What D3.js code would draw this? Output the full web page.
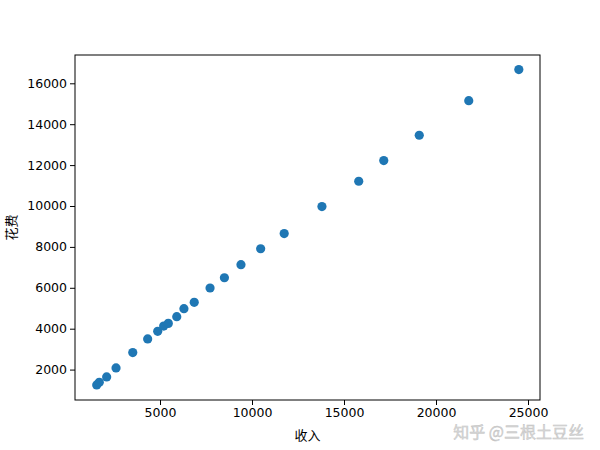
<!DOCTYPE html>
<html><head><meta charset="utf-8">
<script src="https://cdn.jsdelivr.net/npm/d3@7"></script>
<style>body{margin:0;background:#fff}svg{display:block}</style>
</head><body>
<svg id="c" width="600" height="450"></svg>
<script>
const income = [1560,1700,2100,2610,3520,4330,4875,5200,5450,5910,6300,6860,7720,8500,9400,10470,11750,13800,15800,17160,19090,21780,24500];
const spend  = [1250,1380,1640,2080,2830,3500,3870,4130,4260,4590,4980,5290,5990,6490,7130,7910,8650,9970,11210,12220,13460,15150,16670];
const xTicks = [5000,10000,15000,20000,25000];
const yTicks = [2000,4000,6000,8000,10000,12000,14000,16000];
const xLabel = "收入", yLabel = "花费", watermark = "知乎 @三根土豆丝";

const svg = d3.select("#c");
const L=75, R=540, T=55, B=400;
const x = d3.scaleLinear().domain([380,25652]).range([L,R]);
const y = d3.scaleLinear().domain([513,17384]).range([B,T]);
const font = "'DejaVu Sans', sans-serif";

svg.append("g").selectAll("circle").data(income).join("circle")
  .attr("cx",(d,i)=>x(d)).attr("cy",(d,i)=>y(spend[i])).attr("r",4.6)
  .attr("fill","#1f77b4");

const xa = svg.append("g").attr("transform",`translate(0,${B})`)
  .call(d3.axisBottom(x).tickValues(xTicks).tickSize(5).tickPadding(3).tickFormat(d3.format("d")));
const ya = svg.append("g").attr("transform",`translate(${L},0)`)
  .call(d3.axisLeft(y).tickValues(yTicks).tickSize(5).tickPadding(3).tickFormat(d3.format("d")));
[xa,ya].forEach(a=>{a.select(".domain").remove();a.selectAll("text").attr("font-family",font).attr("font-size",12.5).attr("fill","#000");a.selectAll("line").attr("stroke","#000");});

svg.append("rect").attr("x",L).attr("y",T).attr("width",R-L).attr("height",B-T)
  .attr("fill","none").attr("stroke","#000").attr("stroke-width",1);

svg.append("text").attr("x",(L+R)/2).attr("y",440).attr("text-anchor","middle")
  .attr("font-family","'Noto Sans CJK SC', sans-serif").attr("font-size",13).text(xLabel);
svg.append("text").attr("transform",`translate(16,${(T+B)/2}) rotate(-90)`).attr("text-anchor","middle")
  .attr("font-family","'Noto Sans CJK SC', sans-serif").attr("font-size",13).text(yLabel);

svg.append("text").attr("x",584).attr("y",438).attr("text-anchor","end")
  .attr("font-family","'Noto Sans CJK SC', sans-serif").attr("font-size",16)
  .attr("fill","#d8d8d8").attr("stroke","#c0c0c0").attr("stroke-width",0.4).text(watermark);
</script>
</body></html>
